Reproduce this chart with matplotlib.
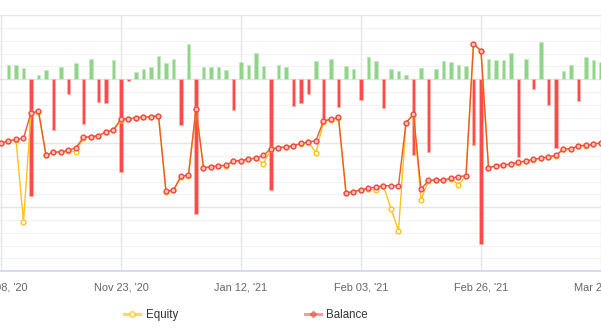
import numpy as np
import matplotlib.pyplot as plt
from matplotlib.lines import Line2D

plt.rcParams['font.family'] = ['Liberation Sans', 'DejaVu Sans']

# category ticks (one label every 16 trades)
tick_labels = ["Oct 08, '20", "Nov 23, '20", "Jan 12, '21", "Feb 03, '21", "Feb 26, '21", "Mar 22, '21"]
tick_step = 16

balance = [
    10000, 10036, 10062, 10078, 10478, 10500, 9817, 9864, 9864, 9891,
    9931, 10094, 10103, 10119, 10181, 10208, 10380, 10384, 10400, 10411,
    10416, 10431, 9250, 9270, 9484, 9509, 10541, 9619, 9634, 9650,
    9656, 9728, 9728, 9755, 9770, 9812, 9916, 9931, 9947, 9962,
    10000, 10020, 10041, 10353, 10375, 10406, 9228, 9244, 9275, 9297,
    9317, 9337, 9337, 9337, 10322, 10453, 9281, 9422, 9427, 9427,
    9453, 9478, 9494, 11556, 11447, 9619, 9650, 9666, 9677, 9703,
    9723, 9750, 9770, 9791, 9812, 9911, 9916, 9962, 9969, 9989,
    10009,
]

equity = [
    10000, 10030, 10055, 8775, 10470, 10495, 9810, 9860, 9860, 9885,
    9869, 10090, 10100, 10115, 10175, 10200, 10364, 10375, 10395, 10405,
    10410, 10425, 9240, 9265, 9478, 9495, 10535, 9610, 9628, 9645,
    9650, 9722, 9722, 9750, 9765, 9681, 9910, 9925, 9940, 9955,
    9995, 10015, 9853, 10340, 10365, 10400, 9220, 9238, 9270, 9290,
    9270, 9330, 8978, 8634, 10315, 10445, 9114, 9415, 9420, 9420,
    9447, 9353, 9488, 11550, 11440, 9610, 9644, 9660, 9670, 9697,
    9717, 9744, 9764, 9785, 9806, 9905, 9910, 9955, 9962, 9983,
    10003,
]

profit = [
    0, 115, 115, 91, -912, 37, 70, -393, 99, -112,
    130, -346, 162, -174, -182, 154, -721, -16, 60, 84,
    99, 185, 130, 162, -354, 279, -1049, 99, 99, 99,
    76, -237, 138, 115, 209, 107, -862, 115, 99, -205,
    -182, -112, 146, -320, 162, -213, 107, 84, -159, 177,
    146, -221, 84, 68, 37, -594, 91, -565, 84, 146,
    138, 115, 107, -516, -1289, 162, 154, 154, 209, -609,
    162, -73, 295, -198, -537, 68, 115, -166, 177, 154,
    138,
]

x = np.arange(len(balance))
profit = np.array(profit)

fig = plt.figure(figsize=(6.01, 3.30), dpi=100)
ax = fig.add_axes([0, 0.1779, 1, 0.7758])
ax2 = ax.twinx()

# bars (profit per trade)
bar_colors = np.where(profit >= 0, '#8fd488', '#ff4a4a')
edge_colors = np.where(profit >= 0, '#c4ebc0', '#ffb0b0')
ax.bar(x, profit, width=0.45, color=bar_colors, edgecolor=edge_colors, linewidth=0.6, zorder=2)
ax.set_ylim(-1500, 500)

# equity / balance lines
ax2.plot(x, equity, color='#ffc21a', lw=1.0, marker='o', ms=3.4,
         mfc='white', mec='#ffc21a', mew=1.0, zorder=3)
ax2.plot(x, balance, color='#ec5a2a', lw=1.0, marker='o', ms=3.4,
         mfc='#ffc4c4', mec='#f04848', mew=1.0, zorder=4)
ax2.set_ylim(8000, 12000)

ax.set_xlim(-0.1333, len(balance) - 1)

# grid: major every 1000, minor every 200 on the balance scale
for v in np.arange(8200, 12000, 200):
    ax.axhline(-1500 + (v - 8000) / 2, color='#f2f2f2', lw=0.8, zorder=0)
for v in np.arange(9000, 12001, 1000):
    ax.axhline(-1500 + (v - 8000) / 2, color='#e6e6e6', lw=1.0, zorder=0.5)

ticks = x[::tick_step]
ax.set_xticks(ticks)
ax.set_xticklabels(tick_labels[:len(ticks)], fontsize=7.9, color='#666666')
for t in ticks:
    ax.axvline(t, color='#e6e6e6', lw=1.0, zorder=0.5)
ax.tick_params(axis='x', length=0, pad=8)
ax.set_yticks([])
ax2.set_yticks([])

for a in (ax, ax2):
    for s in ('top', 'left', 'right', 'bottom'):
        a.spines[s].set_visible(False)
ax.axhline(-1500, color='#ccd6eb', lw=1.2, zorder=1, clip_on=False)

handles = [
    Line2D([], [], color='#ffc21a', lw=2.2, alpha=0.65, marker='o', ms=4,
           mfc='white', mec='#ffc21a', mew=1.2),
    Line2D([], [], color='#f04848', lw=2.2, alpha=0.55, marker='D', ms=3.2,
           mfc='#f04848', mec='#f04848'),
]
fig.legend(handles, ['Equity', 'Balance'], loc='center', ncol=2,
           bbox_to_anchor=(246 / 601, 1 - 315 / 330), frameon=False,
           fontsize=8.3, labelcolor='#333333', handlelength=1.4,
           handletextpad=0.45, columnspacing=11.0)

fig.savefig('out.png', dpi=100)
